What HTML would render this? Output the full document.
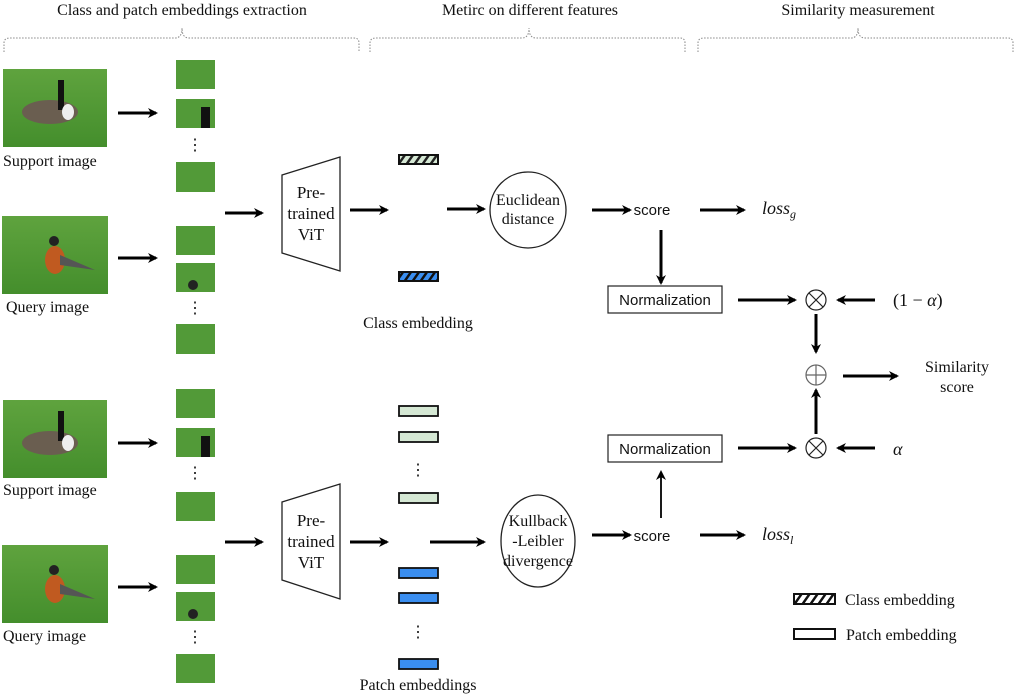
<!DOCTYPE html>
<html><head><meta charset="utf-8"><style>
html,body{margin:0;padding:0;background:#fff;width:1016px;height:694px;overflow:hidden}
svg{display:block}
.t{font-family:"Liberation Serif",serif;font-size:16px;fill:#111}
.s{font-family:"Liberation Sans",sans-serif;font-size:15px;fill:#111}
.m{font-family:"Liberation Serif",serif;font-style:italic;font-size:18px;fill:#111}
</style></head><body>
<svg width="1016" height="694" viewBox="0 0 1016 694" xmlns="http://www.w3.org/2000/svg">
<defs>
<marker id="a" markerWidth="10" markerHeight="10" refX="8" refY="5" orient="auto" markerUnits="userSpaceOnUse">
<path d="M0,0 L10,5 L0,10 L3,5 z" fill="#000"/></marker>
<pattern id="hg" width="8" height="10" patternUnits="userSpaceOnUse" patternTransform="skewX(-35)">
<rect width="8" height="10" fill="#d5e8d4"/><rect width="3" height="10" fill="#222"/></pattern>
<pattern id="hb" width="8" height="10" patternUnits="userSpaceOnUse" patternTransform="skewX(-35)">
<rect width="8" height="10" fill="#3a8ef0"/><rect width="3" height="10" fill="#111"/></pattern>
<pattern id="hw" width="8" height="10" patternUnits="userSpaceOnUse" patternTransform="skewX(-35)">
<rect width="8" height="10" fill="#fff"/><rect width="3" height="10" fill="#111"/></pattern>
<linearGradient id="g" x1="0" y1="0" x2="0" y2="1"><stop offset="0" stop-color="#5fa33e"/><stop offset="1" stop-color="#448e2c"/></linearGradient>
</defs>
<text class="t" x="182" y="15" text-anchor="middle">Class and patch embeddings extraction</text>
<text class="t" x="530" y="15" text-anchor="middle">Metirc on different features</text>
<text class="t" x="858" y="15" text-anchor="middle">Similarity measurement</text>
<g fill="none" stroke="#888" stroke-width="1" stroke-dasharray="1.5,1.5">
<path d="M4,52 V43 Q4,38 10,38 H175 Q182,38 182,28 Q182,38 189,38 H354 Q359,38 359,43 V52"/>
<path d="M370,52 V43 Q370,38 376,38 H522 Q529,38 529,28 Q529,38 536,38 H680 Q685,38 685,43 V52"/>
<path d="M698,52 V43 Q698,38 704,38 H851 Q858,38 858,28 Q858,38 865,38 H1008 Q1013,38 1013,43 V52"/>
</g>
<g>
<rect x="3" y="69" width="104" height="78" fill="url(#g)"/>
<ellipse cx="50" cy="112" rx="28" ry="12" fill="#6a5e50"/><rect x="58" y="80" width="6" height="30" fill="#111"/><ellipse cx="68" cy="112" rx="6" ry="8" fill="#eee"/>
<rect x="2" y="216" width="106" height="78" fill="url(#g)"/>
<ellipse cx="55" cy="260" rx="10" ry="14" fill="#c05a20"/><circle cx="54" cy="241" r="5" fill="#222"/><path d="M60,255 L95,270 L60,265z" fill="#555"/>
<rect x="3" y="400" width="104" height="78" fill="url(#g)"/>
<ellipse cx="50" cy="443" rx="28" ry="12" fill="#6a5e50"/><rect x="58" y="411" width="6" height="30" fill="#111"/><ellipse cx="68" cy="443" rx="6" ry="8" fill="#eee"/>
<rect x="2" y="545" width="106" height="78" fill="url(#g)"/>
<ellipse cx="55" cy="589" rx="10" ry="14" fill="#c05a20"/><circle cx="54" cy="570" r="5" fill="#222"/><path d="M60,584 L95,599 L60,594z" fill="#555"/>
</g>
<text class="t" x="3" y="166">Support image</text>
<text class="t" x="6" y="312">Query image</text>
<text class="t" x="3" y="495">Support image</text>
<text class="t" x="3" y="641">Query image</text>
<g fill="#529a38">
<rect x="176" y="60" width="39" height="29"/><rect x="176" y="99" width="39" height="29"/><rect x="176" y="162" width="39" height="30"/>
<rect x="176" y="226" width="39" height="29"/><rect x="176" y="263" width="39" height="29"/><rect x="176" y="324" width="39" height="30"/>
<rect x="176" y="389" width="39" height="29"/><rect x="176" y="428" width="39" height="29"/><rect x="176" y="492" width="39" height="29"/>
<rect x="176" y="555" width="39" height="29"/><rect x="176" y="592" width="39" height="29"/><rect x="176" y="654" width="39" height="29"/>
</g>
<rect x="201" y="107" width="9" height="21" fill="#111"/><circle cx="193" cy="285" r="5" fill="#222"/>
<rect x="201" y="436" width="9" height="21" fill="#111"/><circle cx="193" cy="614" r="5" fill="#222"/>
<g class="t" text-anchor="middle"><text x="195" y="150">⋮</text><text x="195" y="313">⋮</text><text x="195" y="478">⋮</text><text x="195" y="642">⋮</text></g>
<g stroke="#000" stroke-width="3" marker-end="url(#a)">
<line x1="118" y1="113" x2="156" y2="113"/><line x1="118" y1="258" x2="156" y2="258"/>
<line x1="118" y1="443" x2="156" y2="443"/><line x1="118" y1="587" x2="156" y2="587"/>
<line x1="225" y1="213" x2="262" y2="213"/><line x1="225" y1="542" x2="262" y2="542"/>
<line x1="350" y1="210" x2="387" y2="210"/><line x1="350" y1="542" x2="387" y2="542"/>
<line x1="447" y1="209" x2="484" y2="209"/><line x1="430" y1="542" x2="484" y2="542"/>
<line x1="592" y1="210" x2="630" y2="210"/><line x1="700" y1="210" x2="744" y2="210"/>
<line x1="592" y1="535" x2="630" y2="535"/><line x1="700" y1="535" x2="744" y2="535"/>
<line x1="661" y1="230" x2="661" y2="283"/>
<line x1="738" y1="300" x2="795" y2="300"/><line x1="875" y1="300" x2="838" y2="300"/>
<line x1="816" y1="314" x2="816" y2="352"/>
<line x1="843" y1="376" x2="897" y2="376"/>
<line x1="816" y1="434" x2="816" y2="390"/>
<line x1="738" y1="448" x2="795" y2="448"/><line x1="875" y1="448" x2="838" y2="448"/>
</g>
<line x1="661" y1="518" x2="661" y2="472" stroke="#000" stroke-width="1.8" marker-end="url(#a)"/>
<g fill="#fff" stroke="#222" stroke-width="1.3">
<path d="M282,175 L340,157 L340,271 L282,253 Z"/>
<path d="M282,502 L340,484 L340,599 L282,580 Z"/>
</g>
<g class="t" text-anchor="middle"><text x="311" y="198" style="font-size:17px">Pre-</text><text x="311" y="219" style="font-size:17px">trained</text><text x="311" y="240" style="font-size:17px">ViT</text>
<text x="311" y="526" style="font-size:17px">Pre-</text><text x="311" y="547" style="font-size:17px">trained</text><text x="311" y="568" style="font-size:17px">ViT</text></g>
<rect x="399" y="155" width="39" height="9" fill="url(#hg)" stroke="#111" stroke-width="2"/>
<rect x="399" y="272" width="39" height="9" fill="url(#hb)" stroke="#111" stroke-width="2"/>
<text class="t" x="418" y="328" text-anchor="middle">Class embedding</text>
<g stroke="#111" stroke-width="1.8">
<rect x="399" y="406" width="39" height="10" fill="#d5e8d4"/><rect x="399" y="432" width="39" height="10" fill="#d5e8d4"/><rect x="399" y="493" width="39" height="10" fill="#d5e8d4"/>
<rect x="399" y="568" width="39" height="10" fill="#3a8ef0"/><rect x="399" y="593" width="39" height="10" fill="#3a8ef0"/><rect x="399" y="659" width="39" height="10" fill="#3a8ef0"/>
</g>
<g class="t" text-anchor="middle"><text x="418" y="475">⋮</text><text x="418" y="637">⋮</text></g>
<text class="t" x="418" y="690" text-anchor="middle">Patch embeddings</text>
<circle cx="528" cy="210" r="38" fill="#fff" stroke="#222" stroke-width="1.3"/>
<text class="t" x="528" y="205" text-anchor="middle">Euclidean</text><text class="t" x="528" y="224" text-anchor="middle">distance</text>
<ellipse cx="538" cy="541" rx="37" ry="46" fill="#fff" stroke="#222" stroke-width="1.3"/>
<text class="t" x="538" y="526" text-anchor="middle">Kullback</text><text class="t" x="538" y="546" text-anchor="middle">-Leibler</text><text class="t" x="538" y="566" text-anchor="middle">divergence</text>
<text class="s" x="652" y="215" text-anchor="middle">score</text>
<text class="s" x="652" y="541" text-anchor="middle">score</text>
<text class="m" x="762" y="214">loss<tspan font-size="12" dy="4">g</tspan></text>
<text class="m" x="762" y="540">loss<tspan font-size="12" dy="4">l</tspan></text>
<rect x="608" y="286" width="114" height="27" fill="#fff" stroke="#222" stroke-width="1.2"/>
<text class="s" x="665" y="305" text-anchor="middle">Normalization</text>
<rect x="608" y="435" width="114" height="27" fill="#fff" stroke="#222" stroke-width="1.2"/>
<text class="s" x="665" y="454" text-anchor="middle">Normalization</text>
<g fill="none" stroke="#222" stroke-width="1.2">
<circle cx="816" cy="300" r="10"/><path d="M809,293 L823,307 M823,293 L809,307"/>
<circle cx="816" cy="448" r="10"/><path d="M809,441 L823,455 M823,441 L809,455"/>
<circle cx="816" cy="375" r="10" stroke="#666"/><path d="M806,375 H826 M816,365 V385" stroke="#666"/>
</g>
<text class="t" x="893" y="306" style="font-size:18px">(1 − <tspan font-style="italic">α</tspan>)</text>
<text class="m" x="893" y="455">α</text>
<text class="t" x="957" y="372" text-anchor="middle">Similarity</text>
<text class="t" x="957" y="392" text-anchor="middle">score</text>
<rect x="794" y="594" width="41" height="10" fill="url(#hw)" stroke="#111" stroke-width="2"/>
<text class="t" x="845" y="605">Class embedding</text>
<rect x="794" y="629" width="41" height="10" fill="#fff" stroke="#111" stroke-width="2"/>
<text class="t" x="846" y="640">Patch embedding</text>
</svg>
</body></html>
